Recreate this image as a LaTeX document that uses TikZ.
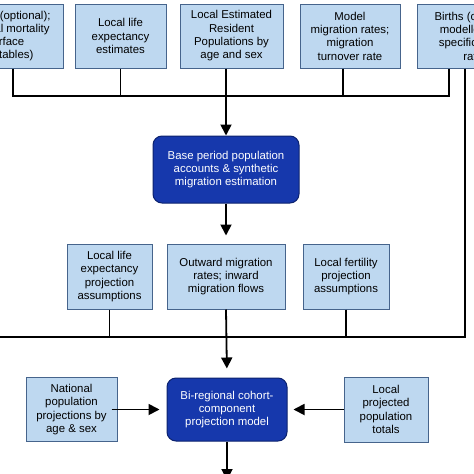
\documentclass[tikz,border=0pt]{standalone}
\usepackage{fontspec}
\setmainfont{Liberation Sans}
\usetikzlibrary{arrows.meta,positioning,calc}

\definecolor{boxfill}{RGB}{190,216,240}
\definecolor{boxdraw}{RGB}{70,100,140}
\definecolor{corefill}{RGB}{22,56,172}
\definecolor{coredraw}{RGB}{12,34,110}

\begin{document}
\begin{tikzpicture}[
    x=1pt, y=-1pt,
    font=\fontsize{11.4}{13.3}\selectfont,
    >={Triangle[length=11pt,width=11pt]},
    box/.style={draw, align=center, inner sep=2pt, line width=1pt},
    input/.style={box, fill=boxfill, draw=boxdraw, minimum height=64pt},
    core/.style={box, fill=corefill, draw=coredraw, text=white, rounded corners=9pt},
    link/.style={line width=1.8pt},
    line/.style={->, line width=1.8pt}
]
\useasboundingbox (0,0) rectangle (474,474);
\clip (0,0) rectangle (474,474);

% Top row: input data
\node[input, minimum width=103pt] (erp) at (231.5,36) {Local Estimated\\Resident\\Populations by\\age and sex};
\node[input, left=13pt of erp, minimum width=91pt] (lifeest) {Local life\\expectancy\\estimates};
\node[input, left=11pt of lifeest, minimum width=115pt] (deaths) {Deaths (optional);\\National mortality\\surface\\(life tables)};
\node[input, right=16pt of erp, minimum width=100pt] (migmodel) {Model\\migration rates;\\migration\\turnover rate};
\node[input, right=16pt of migmodel, minimum width=118pt] (births) {Births (optional);\\modelled age-\\specific fertility\\rates};

% Base period accounts
\node[core, minimum width=146pt, minimum height=67pt] (base) at (226,169.5) {Base period population\\accounts \& synthetic\\migration estimation};

% Projection assumptions
\node[input, minimum width=118pt, minimum height=65pt] (outmig) at (226,276.5) {Outward migration\\rates; inward\\migration flows};
\node[input, left=14pt of outmig, minimum width=85pt, minimum height=65pt] (lifeproj) {Local life\\expectancy\\projection\\assumptions};
\node[input, right=17pt of outmig, minimum width=86pt, minimum height=65pt] (fertproj) {Local fertility\\projection\\assumptions};

% Projection model
\node[core, minimum width=120pt, minimum height=63pt] (model) at (227,409.5) {Bi-regional cohort-\\component\\projection model};
\node[input, left=49pt of model, minimum width=91pt] (natproj) {National\\population\\projections by\\age \& sex};
\node[input, right=56pt of model, minimum width=84pt, minimum height=65pt] (localtot) {Local\\projected\\population\\totals};

% Bus lines
\coordinate (busA) at (13,96);
\coordinate (busB) at (449,96);
\coordinate (hub) at (226,96);
\coordinate (busC) at (-10,337);
\coordinate (busD) at (465,337);
\coordinate (out) at (227,480);

\draw[link] (deaths.south -| busA) |- (busB) -- (births.south -| busB);
\draw[link] (lifeest.south) -- (lifeest.south |- busA);
\draw[link] ($(migmodel.south)+(-7,0)$) -- ($(migmodel.south |- busA)+(-7,0)$);
\draw[link] (erp.south -| hub) -- (hub);
\draw[line] (hub) -- (base.north);
\draw[line, shorten >=8pt] (base.south) -- (outmig.north);

\draw[link] (births.south -| busD) -- (busD) -- (busC);
\draw[link] (lifeproj.south) -- (lifeproj.south |- busD);
\draw[link] (fertproj.south) -- (fertproj.south |- busD);
\draw[line, shorten >=9pt] (outmig.south) -- (model.north);

\draw[line, shorten <=-6pt, shorten >=7pt] (natproj.east) -- (natproj.east -| model.west);
\draw[line, shorten >=6pt] (localtot.west) -- (localtot.west -| model.east);
\draw[line] (model.south) -- (out);

\end{tikzpicture}
\end{document}
